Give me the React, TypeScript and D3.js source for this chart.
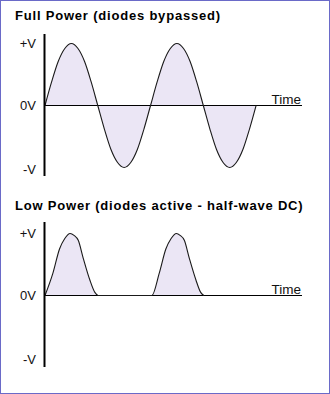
import React from "react";
import * as d3 from "d3";

// ---- Data ----
// time in quarter-period units
const fullPowerT = [0, 0.25, 0.5, 0.75, 1, 1.25, 1.5, 1.75, 2, 2.25, 2.5, 2.75, 3, 3.25, 3.5, 3.75, 4, 4.25, 4.5, 4.75, 5, 5.25, 5.5, 5.75, 6, 6.25, 6.5, 6.75, 7, 7.25, 7.5, 7.75, 8];
const fullPowerV = [0, 0.38, 0.71, 0.92, 1, 0.92, 0.71, 0.38, 0, -0.38, -0.71, -0.92, -1, -0.92, -0.71, -0.38, 0, 0.38, 0.71, 0.92, 1, 0.92, 0.71, 0.38, 0, -0.38, -0.71, -0.92, -1, -0.92, -0.71, -0.38, 0];

const lowPowerT = [0, 0.3, 0.55, 0.75, 0.95, 1.1, 1.26, 1.45, 1.7, 1.89, 2.02, 4.02, 4.05, 4.33, 4.58, 4.78, 4.98, 5.12, 5.28, 5.47, 5.72, 5.9, 6.02];
const lowPowerV = [0, 0.36, 0.75, 0.92, 1, 0.97, 0.89, 0.6, 0.25, 0.05, 0, 0, 0, 0.36, 0.75, 0.92, 1, 0.97, 0.89, 0.6, 0.25, 0.05, 0];

const titles = ["Full Power (diodes bypassed)", "Low Power (diodes active - half-wave DC)"];
const tickLabels = ["+V", "0V", "-V"];
const tickValues = [1, 0, -1.03];
const timeLabel = "Time";

// ---- Layout ----
const W = 330;
const H = 394;
const FILL = "#ebe6f5";
const BORDER = "#6a6ac8";

const panels = [
  { title: titles[0], t: fullPowerT, v: fullPowerV, zeroY: 105.5, titleY: 20, axisTop: 34, axisBottom: 176 },
  { title: titles[1], t: lowPowerT, v: lowPowerV, zeroY: 295.5, titleY: 210, axisTop: 222, axisBottom: 367 },
];

const x = d3.scaleLinear().domain([0, 9.74]).range([45, 302]);

function Panel({ p }: { p: typeof panels[number] }) {
  const y = d3.scaleLinear().domain([-1, 1]).range([p.zeroY + 62, p.zeroY - 62]);
  const pts: [number, number][] = p.t.map((t, i) => [t, p.v[i]]);
  const line = d3
    .line<[number, number]>()
    .x((d) => x(d[0]))
    .y((d) => y(d[1]))
    .curve(d3.curveMonotoneX);
  const area = d3
    .area<[number, number]>()
    .x((d) => x(d[0]))
    .y0(y(0))
    .y1((d) => y(d[1]))
    .curve(d3.curveMonotoneX);
  return (
    <g>
      <text
        x={15}
        y={p.titleY}
        fontFamily="'Liberation Sans', Arial, sans-serif"
        fontWeight="bold"
        fontSize={13}
        letterSpacing={0.8}
        fill="#000"
      >
        {p.title}
      </text>
      <path d={area(pts) || ""} fill={FILL} stroke="none" />
      <line x1={x(0)} x2={x(9.74)} y1={y(0)} y2={y(0)} stroke="#000" strokeWidth={1} />
      <path d={line(pts) || ""} fill="none" stroke="#1a1a1a" strokeWidth={1.1} />
      <line x1={44.5} x2={44.5} y1={p.axisTop} y2={p.axisBottom} stroke="#000" strokeWidth={2} />
      {tickLabels.map((lab, i) => (
        <text
          key={lab}
          x={36}
          y={y(tickValues[i])}
          dy="0.36em"
          textAnchor="end"
          fontFamily="'Liberation Sans', Arial, sans-serif"
          fontSize={13}
          fill="#111"
        >
          {lab}
        </text>
      ))}
      <text
        x={301}
        y={y(0) - 2}
        textAnchor="end"
        fontFamily="'Liberation Sans', Arial, sans-serif"
        fontSize={13.5}
        fill="#111"
      >
        {timeLabel}
      </text>
    </g>
  );
}

export default function App() {
  return (
    <svg
      width={W}
      height={H}
      viewBox={`0 0 ${W} ${H}`}
      style={{ position: "absolute", left: 0, top: 0, display: "block", background: "#fff" }}
    >
      <rect x={0} y={0} width={W} height={H} fill="#fff" />
      {panels.map((p, i) => (
        <Panel key={i} p={p} />
      ))}
      <rect x={0.5} y={0.5} width={W - 1} height={H - 1} fill="none" stroke={BORDER} strokeWidth={1} />
    </svg>
  );
}
